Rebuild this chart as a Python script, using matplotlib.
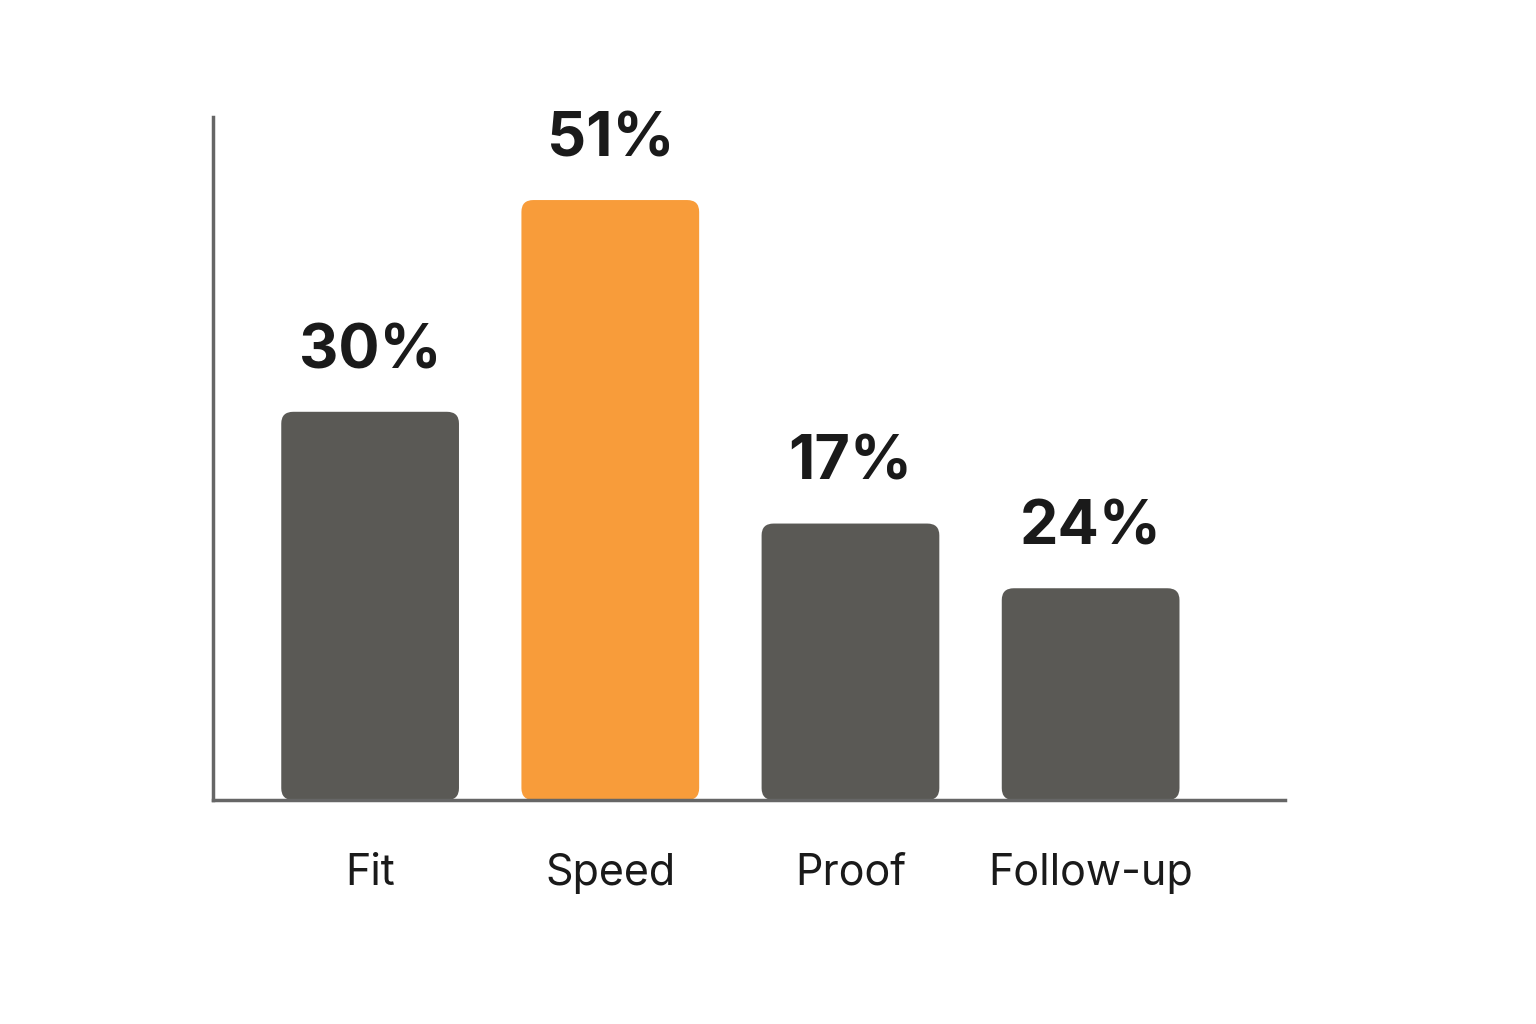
import matplotlib.pyplot as plt
from matplotlib.patches import FancyBboxPatch

categories = ['Fit', 'Speed', 'Proof', 'Follow-up']
bar_heights = [33, 51, 23.5, 18]          # heights as drawn in the picture
value_labels = ['30%', '51%', '17%', '24%']  # labels as printed
colors = ['#5a5955', '#f89c3a', '#5a5955', '#5a5955']

plt.rcParams['font.family'] = ['Inter', 'DejaVu Sans']

fig = plt.figure(figsize=(15.36, 10.24), dpi=100)
ax = fig.add_axes([0.1387, 0.21875, 0.698, 0.667])

x = range(len(categories))
bars = ax.bar(x, bar_heights, width=0.74, color='none')
for b, c, lab in zip(bars, colors, value_labels):
    ax.add_patch(FancyBboxPatch((b.get_x(), 0), b.get_width(), b.get_height(),
                                boxstyle='round,pad=0,rounding_size=0.05',
                                mutation_aspect=20, color=c, lw=0))
    ax.text(b.get_x() + b.get_width() / 2, b.get_height() + 2.6, lab,
            ha='center', va='bottom', fontsize=44, fontweight='bold', color='#1a1a1a')
ax.add_patch(plt.Rectangle((-0.7, -2), 5, 2, color='white', zorder=3, clip_on=False))

ax.set_xlim(-0.654, 3.81)
ax.set_ylim(0, 58.06)
ax.set_xticks(list(x))
ax.set_xticklabels(categories, fontsize=31, color='#1a1a1a')
ax.tick_params(axis='x', length=0, pad=38)
ax.set_yticks([])
for s in ['top', 'right']:
    ax.spines[s].set_visible(False)
for s in ['left', 'bottom']:
    ax.spines[s].set_color('#666666')
    ax.spines[s].set_linewidth(2.5)
    ax.spines[s].set_zorder(4)

fig.savefig('out.png', dpi=100, facecolor='white')
